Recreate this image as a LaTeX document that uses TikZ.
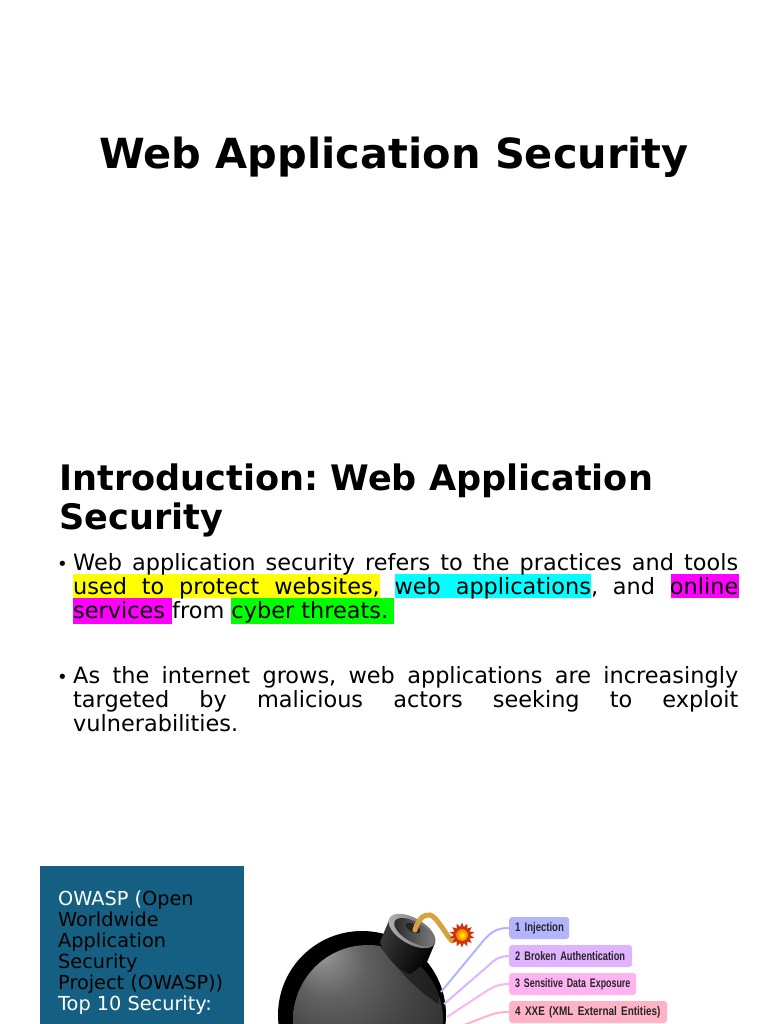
\documentclass[tikz,border=0pt]{standalone}
\usepackage{fontspec}
\setmainfont{DejaVu Sans}
\newfontfamily\labelfont[FakeStretch=0.77]{Liberation Sans}
\usetikzlibrary{shapes.geometric}
\definecolor{owaspblue}{HTML}{156082}
\definecolor{markyellow}{HTML}{FFFF00}
\definecolor{markcyan}{HTML}{00FFFF}
\definecolor{markpink}{HTML}{FF00FF}
\definecolor{markgreen}{HTML}{00FF00}
\definecolor{itemone}{HTML}{B3B3FF}
\definecolor{itemtwo}{HTML}{E0B3FF}
\definecolor{itemthree}{HTML}{FFB3F0}
\definecolor{itemfour}{HTML}{FFB3C6}
\definecolor{fusecol}{HTML}{D9A040}
\definecolor{sparkcol}{HTML}{CC3311}
\pgfdeclareradialshading{bombball}{\pgfpoint{-17bp}{25bp}}{rgb(0bp)=(.66,.66,.66);rgb(5bp)=(.52,.52,.52);rgb(12bp)=(.38,.38,.38);rgb(22bp)=(.28,.28,.28);rgb(35bp)=(.18,.18,.18);rgb(50bp)=(.05,.05,.05)}
\tikzset{
  headtext/.style={anchor=base west,font=\fontsize{35.1}{38.5}\selectfont\bfseries,align=left,inner sep=0pt},
  bodytext/.style={anchor=base west,font=\fontsize{22.4}{24.4}\selectfont,text width=665pt,align=justify,inner sep=0pt},
  bullettext/.style={anchor=base west,font=\fontsize{18}{24.4}\selectfont,inner sep=0pt},
  itembox/.style={anchor=west,rounded corners=3pt,minimum height=22pt,inner xsep=6pt,inner ysep=0pt,text width=#1,align=left,font=\labelfont\bfseries\fontsize{12.4}{12.4}\selectfont,text=black!85},
  itemline/.style={line width=2pt},
}
\begin{document}
\frenchspacing
\begin{tikzpicture}[x=1pt,y=-1pt]
\path[use as bounding box,clip] (0,0) rectangle (768,1024);
\fill[white] (0,0) rectangle (768,1024);
\node[anchor=base,font=\fontsize{41.5}{48}\selectfont\bfseries,inner sep=0pt] (title) at (394,169) {Web Application Security};
\node[headtext] (intro) at (59,529) {Introduction: Web Application\\Security};
% highlights
\fill[markyellow] (73,574) rectangle (380,598);
\fill[markcyan] (395,574) rectangle (591,598);
\fill[markpink] (671,574) rectangle (739,598);
\fill[markpink] (73,598) rectangle (172,624);
\fill[markgreen] (231,598) rectangle (394,624);
\node[bullettext] (dotone) at (57,570) {•};
\node[bodytext] (bodyone) at (73,570) {Web application security refers to the practices and tools\linebreak used to protect websites, web applications, and online\linebreak services from cyber threats.};
\node[bullettext] (dottwo) at (57,683) {•};
\node[bodytext] (bodytwo) at (73,683) {As the internet grows, web applications are increasingly\linebreak targeted by malicious actors seeking to exploit\linebreak vulnerabilities.};
% owasp box
\fill[owaspblue] (40,866) rectangle (244,1030);
\node[anchor=base west,align=left,inner sep=0pt,font=\fontsize{19.3}{21}\selectfont] (owasp) at (58,1010) {\textcolor{white}{OWASP (}Open\\Worldwide\\Application\\Security\\Project (OWASP))\\\textcolor{white}{Top 10 Security:}};
% bomb
\fill[black] (362,1015) circle (84);
\shade[shading=bombball] (368,1020) circle (75);
\begin{scope}
\clip (368,1020) circle (75);
\fill[black,opacity=.45] (378,944) .. controls (395,965) and (410,985) .. (438,1004) -- (445,970) -- (415,940) -- cycle;
\end{scope}
\shade[left color=black!78,right color=black,shading angle=60] (390,918) -- (380,942) .. controls (386,958) and (398,970) .. (410,974) -- (427,962) -- (435,943) -- cycle;
\shade[shift={(412,931)},rotate=-30,left color=black!30,right color=black!60] (0,0) ellipse (26 and 13);
\shade[shift={(414,932)},rotate=-30,left color=black!85,right color=black!50] (0,0) ellipse (22 and 10);
\fill[shift={(413,928)},rotate=-30,black!85] (0,0) ellipse (8 and 4);
\draw[fusecol,line width=5pt,line cap=round] (415,930) .. controls (418,920) and (423,914) .. (430,915) .. controls (437,917) and (444,932) .. (452,941);
\node[star,star points=14,star point ratio=1.5,minimum size=25pt,inner sep=0pt,fill=sparkcol] (spark) at (462,935) {};
\shade[inner color=yellow,outer color=orange!90!red] (spark.center) circle (6);
% list
\node[itembox=48pt,fill=itemone] (inj) at (509,928) {\mbox{1 Injection}};
\node[itembox=111pt,fill=itemtwo] (auth) at (509,956) {\mbox{\scalebox{.97}[1]{2 Broken Authentication}}};
\node[itembox=115pt,fill=itemthree] (data) at (509,984) {\mbox{\scalebox{.93}[1]{3 Sensitive Data Exposure}}};
\node[itembox=146pt,fill=itemfour] (xxe) at (509,1012) {\mbox{\scalebox{1.04}[1]{4 XXE (XML External Entities)}}};
\coordinate (bombone) at (441,992);
\coordinate (bombtwo) at (444,1004);
\coordinate (bombthree) at (447,1017);
\coordinate (bombfour) at (464,1025);
\draw[itemline,itemone] (bombone) -- (484,940) .. controls (492,931) and (498,928) .. (inj.west);
\draw[itemline,itemtwo] (bombtwo) -- (488,966) .. controls (495,959) and (500,956) .. (auth.west);
\draw[itemline,itemthree] (bombthree) -- (488,990) .. controls (495,986) and (500,984) .. (data.west);
\draw[itemline,itemfour] (bombfour) -- (490,1015) .. controls (496,1013) and (500,1012) .. (xxe.west);
\end{tikzpicture}
\end{document}
